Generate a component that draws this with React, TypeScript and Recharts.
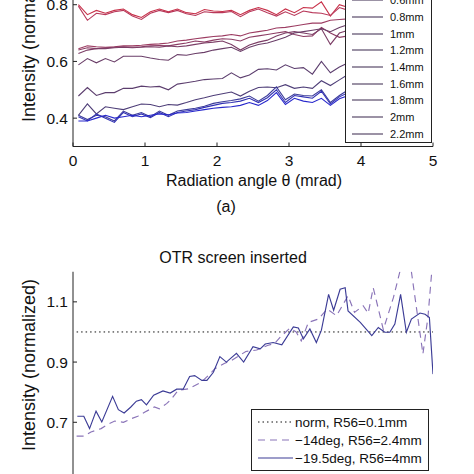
import React from 'react';
import { LineChart, Line, XAxis, YAxis, Legend, Label } from 'recharts';

const FONT = '"Liberation Sans", Arial, Helvetica, sans-serif';
const AXIS = '#222';
const TEXT = '#111';

// ---------- Top panel (a) ----------
const topAngles = [0.075, 0.2, 0.325, 0.45, 0.575, 0.7, 0.825, 0.95, 1.075, 1.2, 1.325, 1.45, 1.575, 1.7, 1.825, 1.95, 2.075, 2.2, 2.325, 2.45, 2.575, 2.7, 2.825, 2.95, 3.075, 3.2, 3.325, 3.45, 3.575, 3.7, 3.825];
const topLabels = ['0.2mm', '0.4mm', '0.6mm', '0.8mm', '1mm', '1.2mm', '1.4mm', '1.6mm', '1.8mm', '2mm', '2.2mm'];
const r02 = [0.80, 0.765, 0.78, 0.77, 0.78, 0.785, 0.765, 0.755, 0.775, 0.785, 0.775, 0.785, 0.772, 0.768, 0.783, 0.778, 0.776, 0.78, 0.765, 0.78, 0.79, 0.78, 0.765, 0.785, 0.772, 0.79, 0.788, 0.81, 0.76, 0.80, 0.79];
const r04 = [0.795, 0.745, 0.77, 0.765, 0.775, 0.78, 0.76, 0.748, 0.77, 0.78, 0.772, 0.78, 0.768, 0.762, 0.775, 0.772, 0.772, 0.776, 0.758, 0.775, 0.785, 0.772, 0.76, 0.775, 0.762, 0.778, 0.772, 0.77, 0.762, 0.79, 0.78];
const r06 = [0.645, 0.655, 0.652, 0.65, 0.652, 0.655, 0.655, 0.657, 0.66, 0.662, 0.665, 0.672, 0.675, 0.68, 0.684, 0.688, 0.69, 0.695, 0.69, 0.70, 0.705, 0.71, 0.718, 0.72, 0.725, 0.73, 0.735, 0.735, 0.745, 0.748, 0.75];
const r08 = [0.64, 0.648, 0.645, 0.648, 0.65, 0.652, 0.65, 0.652, 0.655, 0.656, 0.655, 0.66, 0.665, 0.672, 0.668, 0.675, 0.68, 0.678, 0.672, 0.685, 0.69, 0.695, 0.70, 0.705, 0.695, 0.688, 0.69, 0.72, 0.70, 0.685, 0.69];
const r10 = [0.628, 0.64, 0.645, 0.645, 0.648, 0.65, 0.648, 0.65, 0.652, 0.65, 0.655, 0.652, 0.655, 0.66, 0.665, 0.668, 0.672, 0.66, 0.64, 0.658, 0.668, 0.675, 0.69, 0.70, 0.705, 0.70, 0.695, 0.715, 0.66, 0.70, 0.71];
const r12 = [0.588, 0.61, 0.595, 0.61, 0.598, 0.618, 0.618, 0.618, 0.612, 0.607, 0.604, 0.624, 0.622, 0.628, 0.632, 0.64, 0.645, 0.65, 0.635, 0.65, 0.66, 0.665, 0.675, 0.685, 0.70, 0.705, 0.71, 0.715, 0.705, 0.72, 0.73];
const r14 = [0.478, 0.508, 0.48, 0.49, 0.49, 0.505, 0.505, 0.513, 0.51, 0.512, 0.50, 0.52, 0.525, 0.53, 0.536, 0.538, 0.54, 0.56, 0.542, 0.552, 0.572, 0.574, 0.57, 0.588, 0.575, 0.578, 0.555, 0.60, 0.56, 0.58, 0.595];
const r16 = [0.41, 0.45, 0.415, 0.44, 0.435, 0.43, 0.44, 0.45, 0.448, 0.44, 0.448, 0.446, 0.455, 0.465, 0.472, 0.48, 0.486, 0.492, 0.478, 0.495, 0.508, 0.51, 0.507, 0.518, 0.505, 0.51, 0.505, 0.532, 0.515, 0.535, 0.555];
const r18 = [0.41, 0.395, 0.41, 0.405, 0.39, 0.425, 0.41, 0.42, 0.405, 0.425, 0.41, 0.425, 0.43, 0.435, 0.442, 0.452, 0.458, 0.462, 0.468, 0.478, 0.46, 0.48, 0.51, 0.465, 0.485, 0.48, 0.478, 0.50, 0.455, 0.48, 0.50];
const r20 = [0.405, 0.39, 0.415, 0.40, 0.385, 0.42, 0.405, 0.415, 0.402, 0.42, 0.405, 0.42, 0.425, 0.43, 0.438, 0.445, 0.452, 0.455, 0.46, 0.47, 0.455, 0.472, 0.50, 0.455, 0.48, 0.475, 0.47, 0.495, 0.45, 0.475, 0.49];
const r22 = [0.39, 0.39, 0.40, 0.41, 0.40, 0.405, 0.41, 0.405, 0.41, 0.415, 0.412, 0.418, 0.42, 0.425, 0.43, 0.435, 0.438, 0.44, 0.445, 0.455, 0.445, 0.462, 0.49, 0.448, 0.47, 0.46, 0.455, 0.47, 0.445, 0.468, 0.48];
const topSeries = [r02, r04, r06, r08, r10, r12, r14, r16, r18, r20, r22];
const topColors = ['#c8324a', '#b8385a', '#9c3c62', '#8c3c64', '#7c3e66', '#6a3e68', '#5c3e6e', '#4e3e78', '#3c3c9a', '#3232b4', '#2828cc'];
const topXTicks = [0, 1, 2, 3, 4, 5];
const topYTicks = [0.4, 0.6, 0.8, 1.0];

// ---------- Bottom panel ----------
const normAngles = [0.05, 5.0];
const normValues = [1.0, 1.0];
const dashedAngles = [0.05, 0.15, 0.25, 0.39, 0.5, 0.58, 0.7, 0.81, 0.9, 1.0, 1.13, 1.2, 1.3, 1.37, 1.46, 1.6, 1.78, 1.9, 1.97, 2.1, 2.2, 2.3, 2.4, 2.55, 2.7, 2.8, 2.875, 3.01, 3.1, 3.17, 3.27, 3.41, 3.53, 3.66, 3.82, 3.91, 4.03, 4.1, 4.17, 4.31, 4.45, 4.55, 4.63, 4.7, 4.86, 4.93, 5.0];
const dashedValues = [0.654, 0.654, 0.668, 0.679, 0.695, 0.704, 0.70, 0.712, 0.72, 0.734, 0.751, 0.745, 0.762, 0.778, 0.806, 0.811, 0.833, 0.86, 0.878, 0.895, 0.905, 0.92, 0.935, 0.94, 0.955, 0.962, 0.982, 1.012, 1.0, 0.97, 1.032, 1.043, 1.076, 1.054, 1.12, 1.065, 1.087, 1.062, 1.147, 1.008, 1.114, 1.21, 1.22, 1.2, 0.927, 1.05, 1.25];
const solidAngles = [0.06, 0.15, 0.23, 0.32, 0.40, 0.55, 0.63, 0.71, 0.80, 0.88, 0.95, 1.02, 1.12, 1.25, 1.35, 1.44, 1.53, 1.62, 1.69, 1.79, 1.86, 1.95, 2.04, 2.13, 2.27, 2.37, 2.5, 2.6, 2.67, 2.78, 2.9, 3.06, 3.13, 3.2, 3.29, 3.38, 3.45, 3.55, 3.62, 3.71, 3.78, 3.82, 3.99, 4.15, 4.24, 4.33, 4.40, 4.47, 4.55, 4.63, 4.70, 4.82, 4.89, 4.95, 5.0];
const solidValues = [0.72, 0.72, 0.679, 0.737, 0.701, 0.786, 0.742, 0.731, 0.75, 0.77, 0.775, 0.758, 0.79, 0.804, 0.797, 0.81, 0.81, 0.852, 0.855, 0.839, 0.839, 0.866, 0.918, 0.90, 0.929, 0.90, 0.951, 0.944, 0.96, 0.965, 0.957, 1.017, 1.013, 0.977, 1.01, 0.965, 1.006, 1.125, 1.072, 1.142, 1.147, 1.07, 1.032, 0.988, 1.015, 0.999, 0.999, 1.026, 1.125, 0.999, 1.043, 1.063, 1.059, 1.048, 0.86];
const bottomLabels = ['norm, R56=0.1mm', '\u221214deg, R56=2.4mm', '\u221219.5deg, R56=4mm'];
const bottomColors = ['#111111', '#8a74b8', '#3c3c96'];
const bottomDash = ['1.5 3', '7 5', undefined];
const bottomYTicks = [0.5, 0.7, 0.9, 1.1];

const topData = topAngles.map((a, i) => {
  const row: Record<string, number> = { angle: a };
  topLabels.forEach((l, j) => { row[l] = topSeries[j][i]; });
  return row;
});
const toPoints = (xs: number[], ys: number[]) => xs.map((x, i) => ({ angle: x, value: ys[i] }));
const bottomData = [toPoints(normAngles, normValues), toPoints(dashedAngles, dashedValues), toPoints(solidAngles, solidValues)];

const RotLabel = (text: string, cx: number, cy: number) => () => (
  <text x={cx} y={cy} transform={`rotate(-90 ${cx} ${cy})`} textAnchor="middle" dominantBaseline="central" fontSize={18} fill={TEXT} fontFamily={FONT}>{text}</text>
);
const PlainLabel = (text: string, cx: number, cy: number) => () => (
  <text x={cx} y={cy} textAnchor="middle" dominantBaseline="central" fontSize={16} fill={TEXT} fontFamily={FONT}>{text}</text>
);
const noText = () => '';

const TopLegend = () => (
  <div style={{ width: '100%', height: '100%', boxSizing: 'border-box', border: `1px solid ${AXIS}`, background: '#fff', paddingTop: 2.5, fontFamily: FONT, fontSize: 11, color: TEXT }}>
    {topLabels.map((l) => (
      <div key={l} style={{ height: 16.7, display: 'flex', alignItems: 'center' }}>
        <svg width={44} height={10} style={{ flex: 'none' }}>
          <line x1={6} x2={37} y1={5} y2={5} stroke="#4a3a5c" strokeWidth={1.1} />
        </svg>
        <span>{l}</span>
      </div>
    ))}
  </div>
);

const BottomLegend = () => (
  <div style={{ width: '100%', height: '100%', boxSizing: 'border-box', border: `1px solid ${AXIS}`, background: '#fff', paddingTop: 3, fontFamily: FONT, fontSize: 13.5, color: TEXT }}>
    {bottomLabels.map((l, i) => (
      <div key={l} style={{ height: 18, display: 'flex', alignItems: 'center' }}>
        <svg width={43} height={10} style={{ flex: 'none' }}>
          <line x1={6} x2={41} y1={5} y2={5} stroke={bottomColors[i]} strokeWidth={i === 0 ? 1 : 1.1} strokeDasharray={bottomDash[i]} />
        </svg>
        <span style={{ whiteSpace: 'nowrap' }}>{l}</span>
      </div>
    ))}
  </div>
);

export default function App() {
  const topOffset = -100;
  const botOffset = 232;
  return (
    <div style={{ position: 'fixed', left: 0, top: 0, width: 474, height: 474, overflow: 'hidden', background: '#fff', fontFamily: FONT, color: TEXT }}>
      <div style={{ position: 'absolute', left: 0, top: topOffset }}>
        <LineChart width={474} height={330} data={topData} margin={{ top: 48, right: 41, bottom: 53.5, left: 0 }}>
          <XAxis xAxisId="b" dataKey="angle" type="number" domain={[0, 5]} ticks={topXTicks} allowDataOverflow
            height={30} stroke={AXIS} tickSize={-4} tickMargin={12.5} tick={{ fill: TEXT, fontSize: 15.5 }}>
            <Label content={PlainLabel('Radiation angle \u03b8 (mrad)', 254, 180 - topOffset)} />
          </XAxis>
          <XAxis xAxisId="t" orientation="top" type="number" domain={[0, 5]} ticks={topXTicks} height={0} stroke={AXIS} tickSize={-4} tickFormatter={noText} />
          <YAxis yAxisId="l" type="number" domain={[0.3, 1.0]} ticks={topYTicks} allowDataOverflow width={73} stroke={AXIS}
            tickSize={-4} tickMargin={9} tick={{ fill: TEXT, fontSize: 15.5 }} tickFormatter={(v: number) => v.toFixed(1)}>
            <Label content={RotLabel('Intensity (normalized)', 29, 36 - topOffset)} />
          </YAxis>
          <YAxis yAxisId="r" orientation="right" type="number" domain={[0.3, 1.0]} ticks={topYTicks} width={0} stroke={AXIS} tickSize={-4} tickFormatter={noText} />
          {topLabels.map((l, j) => (
            <Line key={l} xAxisId="b" yAxisId="l" dataKey={l} stroke={topColors[j]} strokeWidth={1.1} dot={false} isAnimationActive={false} />
          ))}
          <Legend layout="vertical" align="center" verticalAlign="middle" content={TopLegend}
            wrapperStyle={{ position: 'absolute', left: 345, top: 55, width: 87, height: 188, margin: 0 }} />
        </LineChart>
      </div>

      <div style={{ position: 'absolute', left: 0, top: 197, width: 474, textAlign: 'center', fontSize: 16, lineHeight: '20px', paddingRight: 22, boxSizing: 'border-box' }}>(a)</div>
      <div style={{ position: 'absolute', left: 0, top: 247.5, width: 474, textAlign: 'center', fontSize: 16, lineHeight: '20px', paddingRight: 8, boxSizing: 'border-box' }}>OTR screen inserted</div>

      <div style={{ position: 'absolute', left: 0, top: botOffset }}>
        <LineChart width={474} height={260} margin={{ top: 39.75, right: 41, bottom: 9.5, left: 0 }}>
          <XAxis xAxisId="b" dataKey="angle" type="number" domain={[0, 5]} ticks={topXTicks} allowDataOverflow height={0} stroke={AXIS} tickSize={-4} tickFormatter={noText} />
          <XAxis xAxisId="t" orientation="top" type="number" domain={[0, 5]} ticks={topXTicks} height={0} stroke={AXIS} tickSize={-4} tickFormatter={noText} />
          <YAxis yAxisId="l" type="number" domain={[0.5, 1.2]} ticks={bottomYTicks} allowDataOverflow width={73} stroke={AXIS}
            tickSize={-4} tickMargin={9} tick={{ fill: TEXT, fontSize: 15.5 }} tickFormatter={(v: number) => v.toFixed(1)}>
            <Label content={RotLabel('Intensity (normalized)', 29, 365 - botOffset)} />
          </YAxis>
          <YAxis yAxisId="r" orientation="right" type="number" domain={[0.5, 1.2]} ticks={bottomYTicks} width={0} stroke={AXIS} tickSize={-4} tickFormatter={noText} />
          {bottomData.map((d, i) => (
            <Line key={bottomLabels[i]} data={d} xAxisId="b" yAxisId="l" dataKey="value" stroke={bottomColors[i]}
              strokeWidth={i === 0 ? 1 : 1.15} strokeDasharray={bottomDash[i]} dot={false} isAnimationActive={false} />
          ))}
          <Legend layout="vertical" align="center" verticalAlign="middle" content={BottomLegend}
            wrapperStyle={{ position: 'absolute', left: 251, top: 409 - botOffset, width: 178, height: 62, margin: 0 }} />
        </LineChart>
      </div>
    </div>
  );
}
